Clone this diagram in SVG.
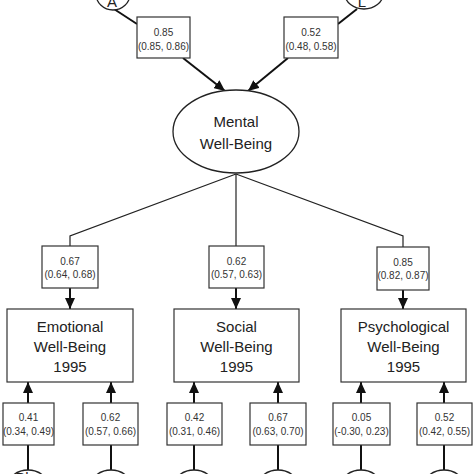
<svg xmlns="http://www.w3.org/2000/svg" width="474" height="474" viewBox="0 0 474 474">
<style>
  .box { fill: #fff; stroke: #333; stroke-width: 1.2; }
  .ell { fill: #fff; stroke: #222; stroke-width: 1.3; }
  .big { font-family: "Liberation Sans", Arial, sans-serif; font-size: 15px; fill: #222; text-anchor: middle; }
  .sm { font-family: "Liberation Sans", Arial, sans-serif; font-size: 10px; fill: #333; text-anchor: middle; }
  .thick { stroke: #111; stroke-width: 2; fill: none; }
  .thin { stroke: #222; stroke-width: 1.2; fill: none; }
</style>
<defs>
  <marker id="arr" markerUnits="userSpaceOnUse" markerWidth="12" markerHeight="10" refX="11" refY="5" orient="auto">
    <path d="M0,0 L11,5 L0,10 Z" fill="#111"/>
  </marker>
</defs>
<rect width="474" height="474" fill="#fff"/>

<g id="connectors">
  <line class="thick" x1="114" y1="9" x2="137" y2="24"/>
  <line class="thick" x1="183" y1="58" x2="225" y2="91" marker-end="url(#arr)"/>
  <line class="thick" x1="357" y1="9" x2="338" y2="24"/>
  <line class="thick" x1="288" y1="58" x2="248" y2="91" marker-end="url(#arr)"/>

  <polyline class="thin" points="236,174 70,236 70,246"/>
  <line class="thin" x1="236" y1="174" x2="236" y2="246"/>
  <polyline class="thin" points="236,174 403,236 403,247"/>

  <line class="thick" x1="70" y1="288" x2="70" y2="309" marker-end="url(#arr)"/>
  <line class="thick" x1="236" y1="288" x2="236" y2="309" marker-end="url(#arr)"/>
  <line class="thick" x1="403" y1="290" x2="403" y2="309" marker-end="url(#arr)"/>

  <line class="thick" x1="28" y1="403" x2="28" y2="382" marker-end="url(#arr)"/>
  <line class="thick" x1="111" y1="403" x2="111" y2="382" marker-end="url(#arr)"/>
  <line class="thick" x1="194" y1="403" x2="194" y2="382" marker-end="url(#arr)"/>
  <line class="thick" x1="278" y1="403" x2="278" y2="382" marker-end="url(#arr)"/>
  <line class="thick" x1="361" y1="403" x2="361" y2="382" marker-end="url(#arr)"/>
  <line class="thick" x1="444" y1="403" x2="444" y2="382" marker-end="url(#arr)"/>

  <line class="thick" x1="28" y1="445" x2="28" y2="470"/>
  <line class="thick" x1="111" y1="445" x2="111" y2="470"/>
  <line class="thick" x1="194" y1="445" x2="194" y2="470"/>
  <line class="thick" x1="278" y1="445" x2="278" y2="470"/>
  <line class="thick" x1="361" y1="445" x2="361" y2="470"/>
  <line class="thick" x1="444" y1="445" x2="444" y2="470"/>
</g>

<g id="A">
  <ellipse class="ell" cx="113" cy="-6" rx="17" ry="16"/>
  <text class="big" x="112" y="7">A</text>
</g>
<g id="L">
  <ellipse class="ell" cx="364" cy="-6" rx="19" ry="15"/>
  <text class="big" x="362" y="7">L</text>
</g>

<g id="p_A">
  <rect class="box" x="137" y="17" width="53" height="41"/>
  <text class="sm" x="163.5" y="36">0.85</text>
  <text class="sm" x="163.5" y="50">(0.85, 0.86)</text>
</g>
<g id="p_L">
  <rect class="box" x="284" y="17" width="54" height="41"/>
  <text class="sm" x="311" y="36">0.52</text>
  <text class="sm" x="311" y="50">(0.48, 0.58)</text>
</g>

<g id="mental">
  <ellipse class="ell" cx="236" cy="131.5" rx="63" ry="41.5"/>
  <text class="big" x="236" y="127">Mental</text>
  <text class="big" x="236" y="149">Well-Being</text>
</g>

<g id="p_em">
  <rect class="box" x="42" y="246" width="56" height="42"/>
  <text class="sm" x="70" y="265">0.67</text>
  <text class="sm" x="70" y="278">(0.64, 0.68)</text>
</g>
<g id="p_so">
  <rect class="box" x="209" y="246" width="55" height="42"/>
  <text class="sm" x="236.5" y="265">0.62</text>
  <text class="sm" x="236.5" y="278">(0.57, 0.63)</text>
</g>
<g id="p_ps">
  <rect class="box" x="377" y="247" width="52" height="43"/>
  <text class="sm" x="403" y="266">0.85</text>
  <text class="sm" x="403" y="279">(0.82, 0.87)</text>
</g>

<g id="emotional">
  <rect class="box" x="7" y="309" width="126" height="73"/>
  <text class="big" x="70" y="332">Emotional</text>
  <text class="big" x="70" y="352">Well-Being</text>
  <text class="big" x="70" y="372">1995</text>
</g>
<g id="social">
  <rect class="box" x="174" y="309" width="125" height="73"/>
  <text class="big" x="236.5" y="332">Social</text>
  <text class="big" x="236.5" y="352">Well-Being</text>
  <text class="big" x="236.5" y="372">1995</text>
</g>
<g id="psychological">
  <rect class="box" x="341" y="309" width="125" height="73"/>
  <text class="big" x="403.5" y="332">Psychological</text>
  <text class="big" x="403.5" y="352">Well-Being</text>
  <text class="big" x="403.5" y="372">1995</text>
</g>

<g id="b1">
  <rect class="box" x="3" y="403" width="51" height="42"/>
  <text class="sm" x="28.5" y="421">0.41</text>
  <text class="sm" x="28.5" y="435">(0.34, 0.49)</text>
</g>
<g id="b2">
  <rect class="box" x="83" y="403" width="55" height="42"/>
  <text class="sm" x="110.5" y="421">0.62</text>
  <text class="sm" x="110.5" y="435">(0.57, 0.66)</text>
</g>
<g id="b3">
  <rect class="box" x="167" y="403" width="55" height="42"/>
  <text class="sm" x="194.5" y="421">0.42</text>
  <text class="sm" x="194.5" y="435">(0.31, 0.46)</text>
</g>
<g id="b4">
  <rect class="box" x="250" y="403" width="56" height="42"/>
  <text class="sm" x="278" y="421">0.67</text>
  <text class="sm" x="278" y="435">(0.63, 0.70)</text>
</g>
<g id="b5">
  <rect class="box" x="333" y="403" width="57" height="42"/>
  <text class="sm" x="361.5" y="421">0.05</text>
  <text class="sm" x="361.5" y="435">(-0.30, 0.23)</text>
</g>
<g id="b6">
  <rect class="box" x="417" y="403" width="55" height="42"/>
  <text class="sm" x="444.5" y="421">0.52</text>
  <text class="sm" x="444.5" y="435">(0.42, 0.55)</text>
</g>

<g id="e1">
  <ellipse class="ell" cx="28" cy="486" rx="20" ry="16"/>
  <text class="big" x="22" y="483">Bl</text>
</g>
<g id="e2"><ellipse class="ell" cx="111" cy="486" rx="20" ry="16"/></g>
<g id="e3"><ellipse class="ell" cx="194" cy="486" rx="20" ry="16"/></g>
<g id="e4"><ellipse class="ell" cx="278" cy="486" rx="20" ry="16"/></g>
<g id="e5"><ellipse class="ell" cx="361" cy="486" rx="20" ry="16"/></g>
<g id="e6"><ellipse class="ell" cx="444" cy="486" rx="20" ry="16"/></g>
</svg>
